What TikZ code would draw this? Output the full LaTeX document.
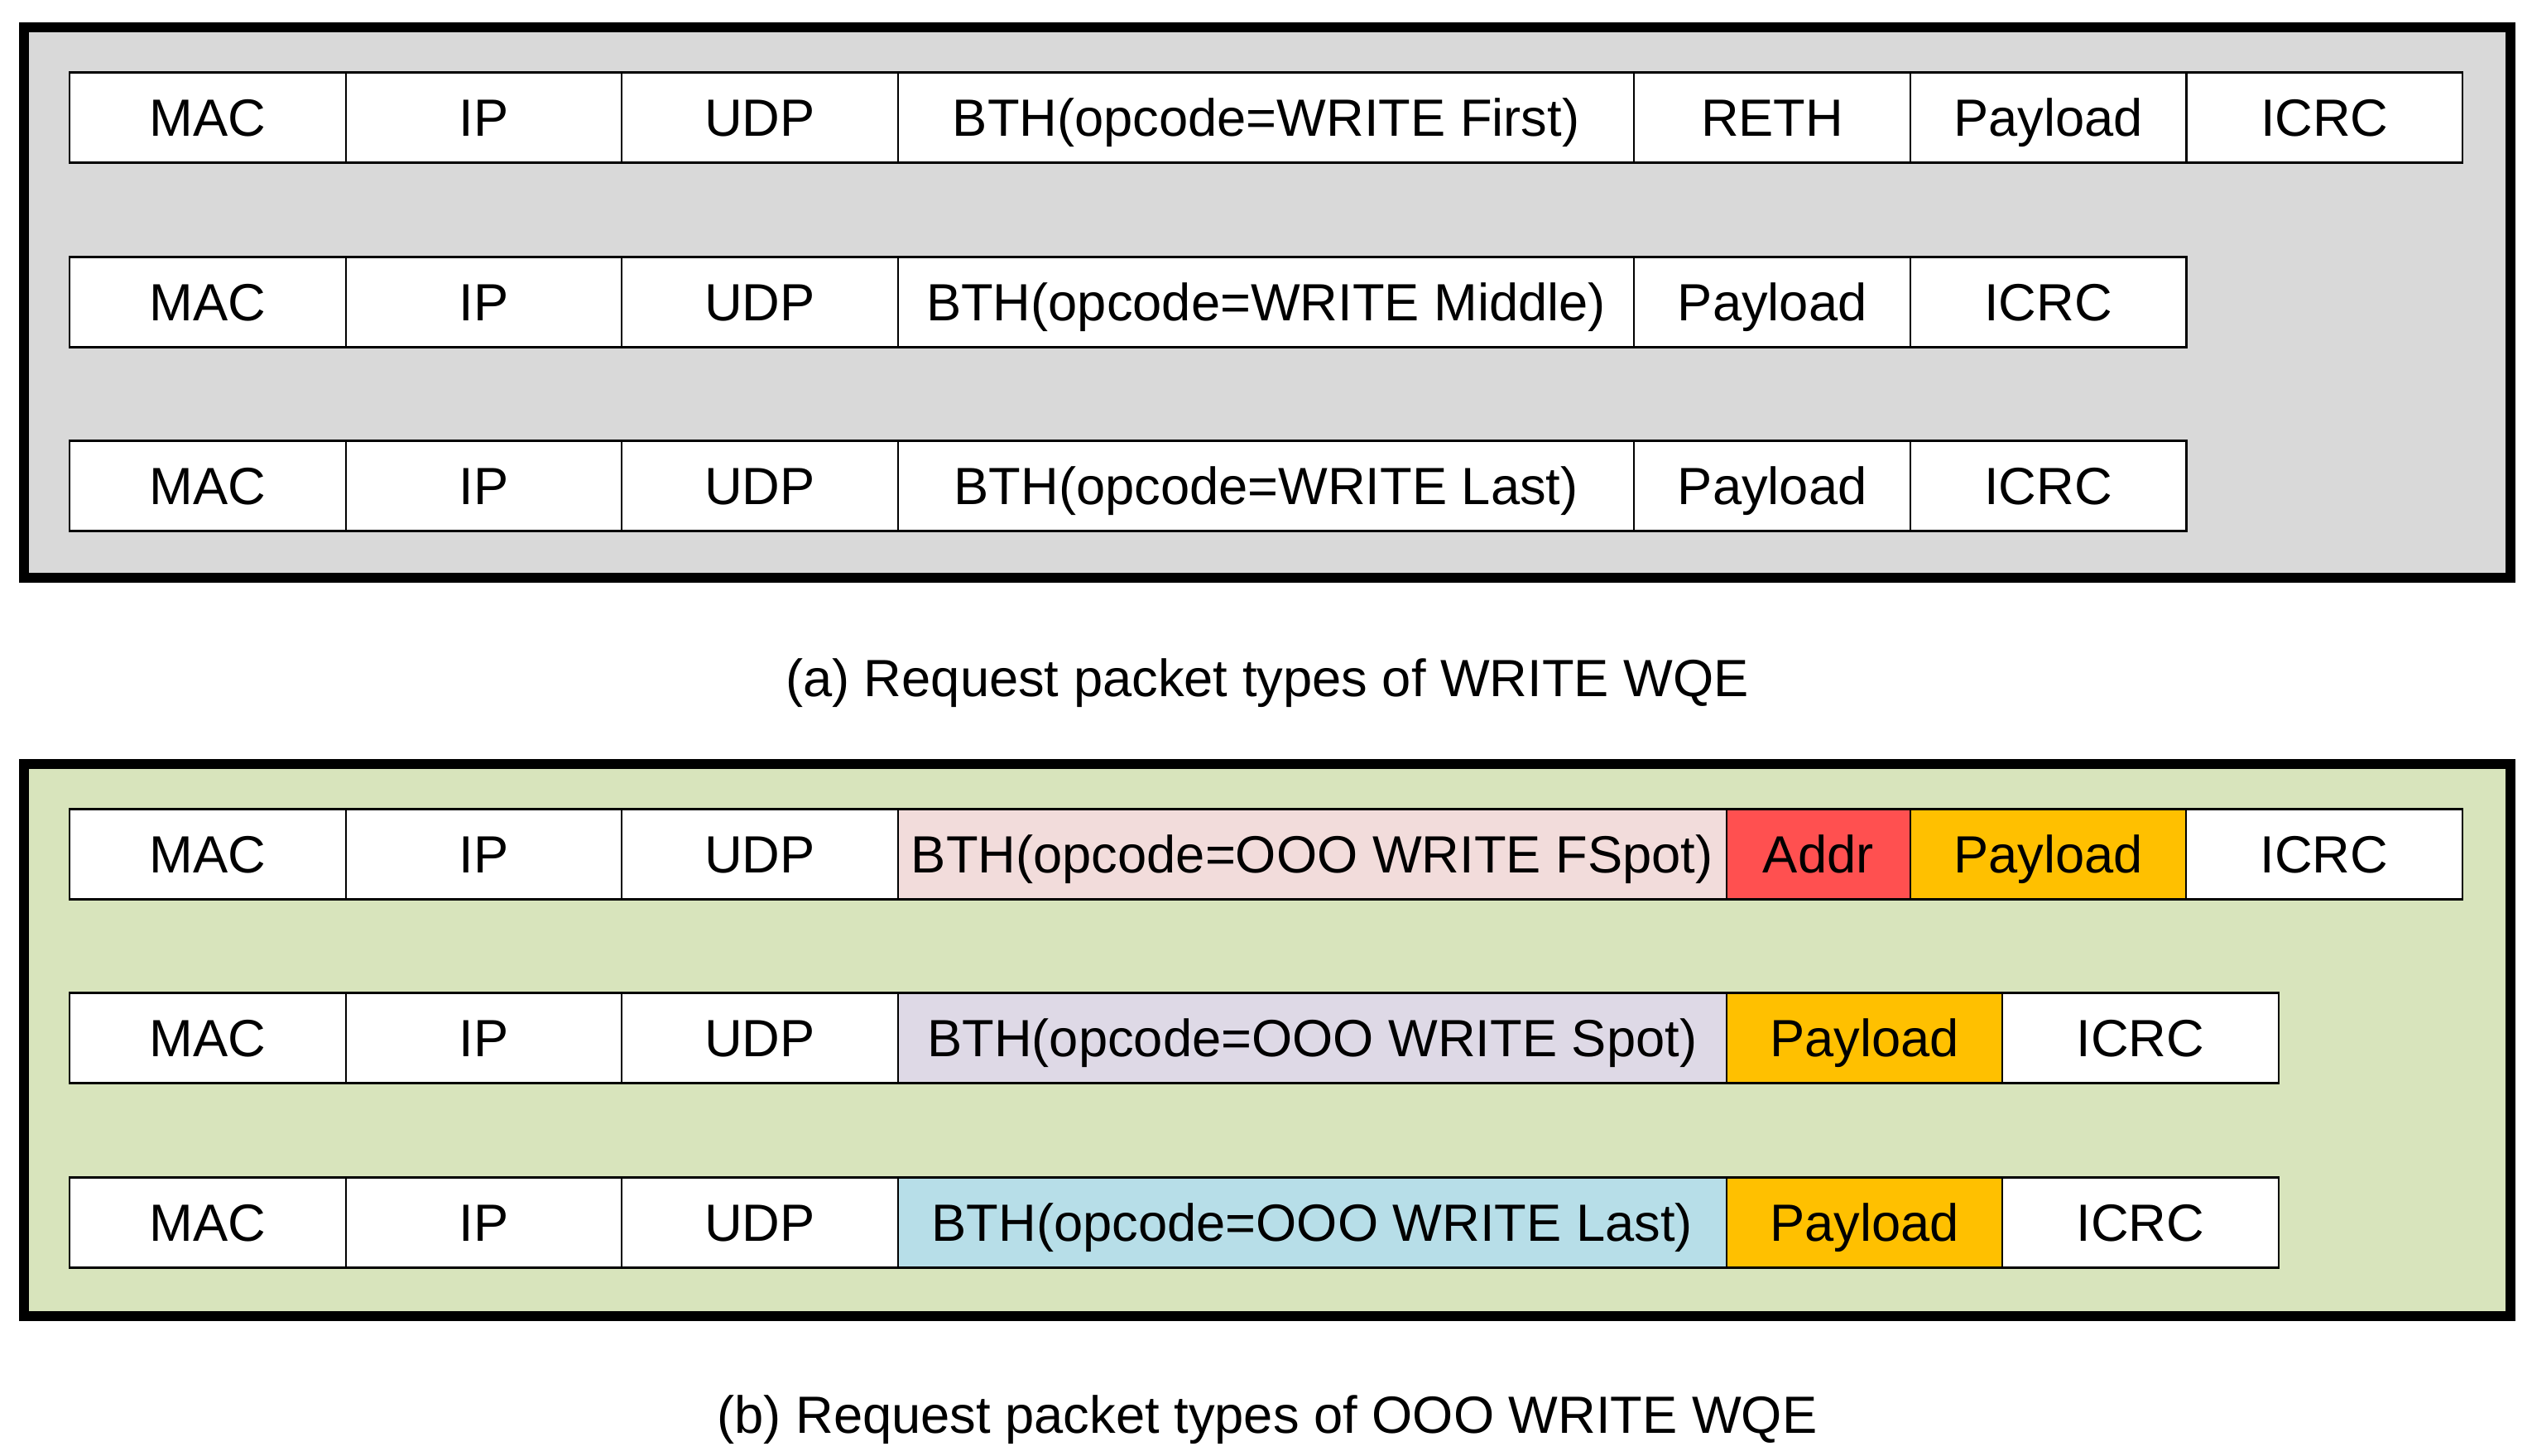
\documentclass[tikz,border=0pt]{standalone}
\usepackage{fontspec}
\setmainfont{Liberation Sans}
\usetikzlibrary{positioning}
\definecolor{fondgris}{HTML}{D9D9D9}
\definecolor{fondvert}{HTML}{D8E4BC}
\definecolor{rose}{HTML}{F2DCDB}
\definecolor{lavande}{HTML}{DED9E6}
\definecolor{bleuclair}{HTML}{B7DEE8}
\definecolor{rouge}{HTML}{FF5050}
\definecolor{orange}{HTML}{FFC000}
\tikzset{
	champ/.style={draw, line width=0.6pt, fill=white, minimum height=1.09cm, minimum width=3.336cm,
		inner sep=0pt, outer sep=0pt, text height=0.45cm, text depth=0pt, font=\fontsize{18}{21}\selectfont},
	bth/.style={champ, minimum width=#1},
	cadre/.style={draw, line width=0.12cm},
	legende/.style={font=\fontsize{18}{21}\selectfont, text height=0.45cm, text depth=0pt, inner sep=0pt}
}
\begin{document}
\begin{tikzpicture}
	\useasboundingbox (0,0) rectangle (30.59,-17.59);
	\draw[cadre, fill=fondgris] (0.29,-0.33) rectangle (30.33,-6.98);
	\draw[cadre, fill=fondvert] (0.29,-9.23) rectangle (30.33,-15.90);

	\node[champ, anchor=west] (amac1) at (0.84,-1.42) {MAC};
	\node[champ, right=0pt of amac1] (aip1) {IP};
	\node[champ, right=0pt of aip1] (audp1) {UDP};
	\node[bth=8.895cm, right=0pt of audp1] (abth1) {BTH(opcode=WRITE First)};
	\node[champ, right=0pt of abth1] (areth1) {RETH};
	\node[champ, right=0pt of areth1] (apay1) {Payload};
	\node[champ, right=0pt of apay1] (aicrc1) {ICRC};

	\node[champ, anchor=west] (amac2) at (0.84,-3.65) {MAC};
	\node[champ, right=0pt of amac2] (aip2) {IP};
	\node[champ, right=0pt of aip2] (audp2) {UDP};
	\node[bth=8.895cm, right=0pt of audp2] (abth2) {BTH(opcode=WRITE Middle)};
	\node[champ, right=0pt of abth2] (apay2) {Payload};
	\node[champ, right=0pt of apay2] (aicrc2) {ICRC};

	\node[champ, anchor=west] (amac3) at (0.84,-5.87) {MAC};
	\node[champ, right=0pt of amac3] (aip3) {IP};
	\node[champ, right=0pt of aip3] (audp3) {UDP};
	\node[bth=8.895cm, right=0pt of audp3] (abth3) {BTH(opcode=WRITE Last)};
	\node[champ, right=0pt of abth3] (apay3) {Payload};
	\node[champ, right=0pt of apay3] (aicrc3) {ICRC};

	\node[legende] (lega) at (15.31,-8.19) {(a) Request packet types of WRITE WQE};

	\node[champ, anchor=west] (bmac1) at (0.84,-10.32) {MAC};
	\node[champ, right=0pt of bmac1] (bip1) {IP};
	\node[champ, right=0pt of bip1] (budp1) {UDP};
	\node[bth=10.008cm, fill=rose, right=0pt of budp1] (bbth1) {BTH(opcode=OOO WRITE FSpot)};
	\node[champ, minimum width=2.22cm, fill=rouge, right=0pt of bbth1] (baddr1) {Addr};
	\node[champ, fill=orange, right=0pt of baddr1] (bpay1) {Payload};
	\node[champ, right=0pt of bpay1] (bicrc1) {ICRC};

	\node[champ, anchor=west] (bmac2) at (0.84,-12.54) {MAC};
	\node[champ, right=0pt of bmac2] (bip2) {IP};
	\node[champ, right=0pt of bip2] (budp2) {UDP};
	\node[bth=10.008cm, fill=lavande, right=0pt of budp2] (bbth2) {BTH(opcode=OOO WRITE Spot)};
	\node[champ, fill=orange, right=0pt of bbth2] (bpay2) {Payload};
	\node[champ, right=0pt of bpay2] (bicrc2) {ICRC};

	\node[champ, anchor=west] (bmac3) at (0.84,-14.77) {MAC};
	\node[champ, right=0pt of bmac3] (bip3) {IP};
	\node[champ, right=0pt of bip3] (budp3) {UDP};
	\node[bth=10.008cm, fill=bleuclair, right=0pt of budp3] (bbth3) {BTH(opcode=OOO WRITE Last)};
	\node[champ, fill=orange, right=0pt of bbth3] (bpay3) {Payload};
	\node[champ, right=0pt of bpay3] (bicrc3) {ICRC};

	\node[legende] (legb) at (15.31,-17.09) {(b) Request packet types of OOO WRITE WQE};
\end{tikzpicture}
\end{document}
